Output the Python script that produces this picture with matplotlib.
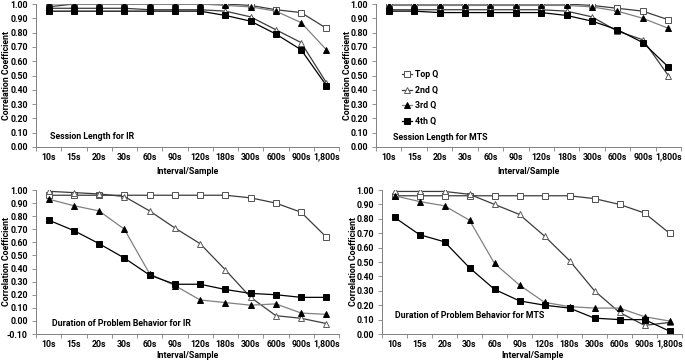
import numpy as np
import matplotlib
matplotlib.use("Agg")
import matplotlib.pyplot as plt

plt.rcParams['font.family'] = ['Roboto', 'DejaVu Sans']
plt.rcParams['font.weight'] = 'bold'

intervals = ['10s', '15s', '20s', '30s', '60s', '90s', '120s', '180s', '300s', '600s', '900s', '1,800s']
quartiles = ['Top Q', '2nd Q', '3rd Q', '4th Q']

# session length, IR
sl_ir_top = [0.98, 1.00, 1.00, 1.00, 1.00, 1.00, 1.00, 1.00, 0.99, 0.96, 0.94, 0.83]
sl_ir_2nd = [0.97, 0.97, 0.97, 0.97, 0.96, 0.96, 0.96, 0.95, 0.91, 0.82, 0.73, 0.45]
sl_ir_3rd = [1.00, 1.00, 1.00, 1.00, 1.00, 1.00, 1.00, 0.99, 0.98, 0.95, 0.87, 0.68]
sl_ir_4th = [0.95, 0.95, 0.95, 0.95, 0.95, 0.95, 0.95, 0.92, 0.88, 0.79, 0.68, 0.43]

# session length, MTS
sl_mts_top = [1.00, 1.00, 1.00, 1.00, 1.00, 1.00, 1.00, 1.00, 0.99, 0.97, 0.95, 0.89]
sl_mts_2nd = [0.96, 0.96, 0.96, 0.96, 0.96, 0.96, 0.96, 0.95, 0.91, 0.81, 0.75, 0.50]
sl_mts_3rd = [0.99, 0.99, 0.99, 0.99, 0.99, 0.99, 0.99, 0.99, 0.98, 0.95, 0.90, 0.83]
sl_mts_4th = [0.95, 0.95, 0.94, 0.94, 0.94, 0.94, 0.94, 0.92, 0.88, 0.82, 0.73, 0.56]

# duration of problem behavior, IR
dur_ir_top = [0.96, 0.96, 0.96, 0.96, 0.96, 0.96, 0.96, 0.96, 0.94, 0.90, 0.83, 0.64]
dur_ir_2nd = [0.99, 0.98, 0.97, 0.95, 0.84, 0.71, 0.59, 0.39, 0.18, 0.04, 0.02, -0.02]
dur_ir_3rd = [0.93, 0.88, 0.84, 0.70, 0.36, 0.27, 0.16, 0.14, 0.12, 0.13, 0.06, 0.05]
dur_ir_4th = [0.77, 0.69, 0.59, 0.48, 0.35, 0.28, 0.28, 0.24, 0.21, 0.20, 0.18, 0.18]

# duration of problem behavior, MTS
dur_mts_top = [0.96, 0.96, 0.96, 0.96, 0.96, 0.96, 0.96, 0.96, 0.94, 0.90, 0.84, 0.70]
dur_mts_2nd = [0.99, 0.99, 0.99, 0.97, 0.90, 0.83, 0.68, 0.51, 0.30, 0.15, 0.06, 0.08]
dur_mts_3rd = [0.96, 0.92, 0.89, 0.79, 0.49, 0.34, 0.22, 0.19, 0.18, 0.18, 0.12, 0.09]
dur_mts_4th = [0.81, 0.69, 0.64, 0.46, 0.31, 0.23, 0.20, 0.18, 0.11, 0.10, 0.10, 0.02]

panels = [
    ('Session Length for IR', [sl_ir_top, sl_ir_2nd, sl_ir_3rd, sl_ir_4th], 0.0),
    ('Session Length for MTS', [sl_mts_top, sl_mts_2nd, sl_mts_3rd, sl_mts_4th], 0.0),
    ('Duration of Problem Behavior for IR', [dur_ir_top, dur_ir_2nd, dur_ir_3rd, dur_ir_4th], -0.1),
    ('Duration of Problem Behavior for MTS', [dur_mts_top, dur_mts_2nd, dur_mts_3rd, dur_mts_4th], 0.0),
]

# line colour, marker, marker face, marker edge
styles = [
    ('#3c3c3c', 's', 'white', '#505050'),
    ('#3c3c3c', '^', 'white', '#5a5a5a'),
    ('#808080', '^', 'black', 'black'),
    ('#000000', 's', 'black', 'black'),
]

boxes = [
    [36/685, 1-147/362, 303/685, 143/362],
    [376/685, 1-147/362, 305/685, 143/362],
    [36/685, 1-334/362, 303/685, 144/362],
    [382/685, 1-334/362, 300/685, 144/362],
]
xlab_gap = [25, 25, 22, 22]
title_pos = [(0.046, 0.07), (0.056, 0.065), (0.053, 0.07), (0.043, 0.125)]

fig = plt.figure(figsize=(6.85, 3.62), dpi=100)
x = np.arange(len(intervals))

for k in range(4):
    title, series, ymin = panels[k]
    ax = fig.add_axes(boxes[k])
    w = boxes[k][2] * 685
    h = boxes[k][3] * 362
    for j in range(4):
        c, m, fc, ec = styles[j]
        ax.plot(x, series[j], color=c, linewidth=0.9, marker=m, markersize=4.5,
                markerfacecolor=fc, markeredgecolor=ec, markeredgewidth=0.7,
                label=quartiles[j])
    ax.set_xlim(-0.5, len(intervals) - 0.5)
    ax.set_ylim(ymin, 1.0)
    ax.set_yticks(np.arange(ymin, 1.001, 0.1))
    ax.yaxis.set_major_formatter(matplotlib.ticker.FormatStrFormatter('%.2f'))
    ax.set_xticks(x)
    ax.set_xticklabels(intervals)
    ax.set_xticks(np.arange(-0.5, len(intervals), 1.0), minor=True)
    ax.tick_params(axis='x', which='major', length=0, pad=4, labelsize=6.3)
    ax.tick_params(axis='x', which='minor', length=3, width=0.6, color='#808080')
    ax.tick_params(axis='y', length=3, width=0.6, color='#808080', labelsize=6.3, pad=3)
    for s in ['top', 'right']:
        ax.spines[s].set_visible(False)
    for s in ['left', 'bottom']:
        ax.spines[s].set_color('#808080')
        ax.spines[s].set_linewidth(0.7)
    ax.set_xlabel('Interval/Sample', fontsize=6.3, fontweight='bold', va='center')
    ax.set_ylabel('Correlation Coefficient', fontsize=6.3, fontweight='bold', va='center')
    ax.xaxis.set_label_coords(0.5, -xlab_gap[k]/h, transform=ax.transAxes)
    ax.yaxis.set_label_coords(-29/w, 0.5, transform=ax.transAxes)
    tx, ty = title_pos[k]
    ax.text(tx, ty, title, transform=ax.transAxes,
            fontsize=6.3, fontweight='bold', va='center')
    if k == 1:
        ax.legend(loc='upper left', bbox_to_anchor=(0.065, 0.58), frameon=False,
                  fontsize=6.3, handlelength=1.2, handletextpad=0.3,
                  labelspacing=0.75, markerscale=0.9, borderpad=0.2)

fig.savefig('out.png', dpi=100)
